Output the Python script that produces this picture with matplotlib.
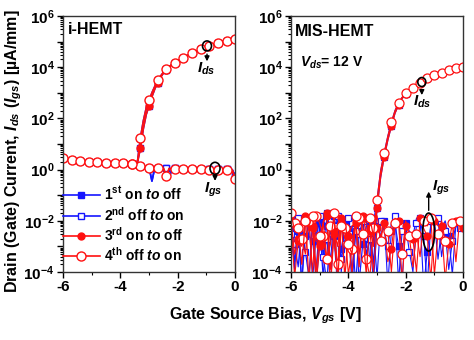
import numpy as np
import matplotlib
matplotlib.use('Agg')
import matplotlib.pyplot as plt
from matplotlib.patches import Ellipse
from matplotlib.transforms import ScaledTranslation
from matplotlib.ticker import LogLocator, NullFormatter, FixedLocator

plt.rcParams['font.family'] = ['Liberation Sans', 'DejaVu Sans']
plt.rcParams['font.weight'] = 'bold'
plt.rcParams['mathtext.fontset'] = 'custom'
plt.rcParams['mathtext.rm'] = 'Liberation Sans:bold'
plt.rcParams['mathtext.it'] = 'Liberation Sans:italic:bold'
plt.rcParams['mathtext.bf'] = 'Liberation Sans:bold'
plt.rcParams['mathtext.default'] = 'regular'
plt.rcParams['axes.unicode_minus'] = False

# ---- i-HEMT, Vgs grid 0.1 V ----
v_left = np.linspace(-6, 0, 61)
v_left_on = v_left[24:]   # -3.6 .. 0 V

# log10(Ids) above threshold, on->off sweeps (1st, 3rd) and off->on sweeps (2nd, 4th)
ids_left_down = [0.22, 0.22, 0.30, 0.85, 1.60, 2.15, 2.50, 2.85, 3.15, 3.40, 3.60, 3.77, 3.90,
                 4.02, 4.10, 4.18, 4.25, 4.31, 4.37, 4.43, 4.49, 4.55, 4.60, 4.65, 4.70,
                 4.74, 4.79, 4.83, 4.87, 4.91, 4.95, 4.98, 5.01, 5.04, 5.07, 5.10, 5.12]
ids_left_up = [0.22, 0.22, 0.35, 1.25, 1.90, 2.40, 2.70, 3.00, 3.25, 3.50, 3.65, 3.80, 3.92,
               4.02, 4.10, 4.18, 4.25, 4.31, 4.37, 4.43, 4.49, 4.55, 4.60, 4.65, 4.70,
               4.74, 4.79, 4.83, 4.87, 4.91, 4.95, 4.98, 5.01, 5.04, 5.07, 5.10, 5.12]

# log10(Igs)
igs_left_blue = [0.45, 0.42, 0.40, 0.38, 0.37, 0.35, 0.34, 0.33, 0.32, 0.31, 0.30, 0.29, 0.29,
                 0.28, 0.27, 0.27, 0.26, 0.26, 0.25, 0.25, 0.24, 0.24, 0.23, 0.23, 0.22, 0.22,
                 0.20, 0.15, 0.11, 0.09, 0.08, -0.45, 0.07, 0.07, 0.06, 0.06, 0.06, -0.35, 0.05,
                 0.05, 0.05, 0.04, 0.04, 0.04, 0.04, 0.03, 0.03, 0.03, 0.03, 0.02, 0.02, 0.02,
                 0.02, 0.02, 0.01, 0.01, 0.01, 0.01, 0.0, 0.0, -0.25]
igs_left_red = [0.45, 0.42, 0.40, 0.38, 0.37, 0.35, 0.34, 0.33, 0.32, 0.31, 0.30, 0.29, 0.29,
                0.28, 0.27, 0.27, 0.26, 0.26, 0.25, 0.25, 0.24, 0.24, 0.23, 0.23, 0.22, 0.22,
                0.20, 0.14, 0.10, 0.08, 0.07, 0.06, 0.06, 0.05, 0.05, 0.05, -0.25, 0.04, 0.04,
                0.04, 0.03, 0.03, 0.03, 0.02, 0.02, 0.02, 0.02, 0.01, 0.01, 0.01, 0.01, 0.0,
                0.0, 0.0, 0.0, -0.01, -0.01, -0.01, -0.02, -0.02, -0.35]

# ---- MIS-HEMT, Vgs grid 0.125 V ----
v_right = np.linspace(-6, 0, 49)

# log10(Ids) below threshold (-6 .. -3.125 V), one row per sweep
ids_right_off = [
    [-1.8, -2.9, -2.4, -4.5, -1.9, -2.6, -2.8, -3.9, -2.1, -4.3, -1.7, -2.5,
     -2.6, -4.6, -2.0, -3.1, -2.3, -2.0, -1.8, -4.4, -2.9, -2.2, -2.2, -3.7],
    [-2.5, -3.6, -1.9, -2.3, -3.2, -4.2, -2.0, -2.6, -1.8, -3.3, -2.7, -4.5,
     -2.2, -2.0, -3.5, -2.8, -1.9, -4.1, -2.4, -2.2, -2.0, -3.4, -2.7, -2.1],
    [-2.0, -3.3, -2.7, -1.9, -1.8, -4.4, -2.3, -2.8, -2.9, -2.1, -1.7, -4.6,
     -2.4, -3.0, -1.9, -4.2, -2.6, -2.2, -2.1, -3.8, -1.8, -2.5, -2.3, -3.0],
    [-1.7, -2.4, -2.3, -3.7, -2.0, -2.2, -1.8, -4.0, -2.6, -2.1, -3.5, -2.9,
     -1.7, -4.3, -2.2, -2.0, -2.9, -3.3, -1.8, -2.4, -2.5, -4.1, -1.9, -2.6],
]
# log10(Ids) above threshold (-3.0 .. 0 V)
ids_right_on_down = [-1.50, -0.30, 0.50, 1.15, 1.70, 2.20, 2.52, 2.78, 2.96, 3.09, 3.18, 3.27,
                     3.37, 3.46, 3.56, 3.62, 3.68, 3.73, 3.78, 3.83, 3.88, 3.93, 3.96, 3.98, 4.00]
ids_right_on_up = [-1.17, -0.05, 0.65, 1.30, 1.85, 2.30, 2.60, 2.82, 2.98, 3.10, 3.18, 3.27,
                   3.37, 3.46, 3.56, 3.62, 3.68, 3.73, 3.78, 3.83, 3.88, 3.93, 3.96, 3.98, 4.00]

# log10(Igs), one row per sweep
igs_right = [
    [-2.4, -3.9, -2.0, -4.4, -2.6, -2.2, -1.9, -4.5, -2.8, -2.0, -2.2, -3.6, -1.8, -4.2, -3.1,
     -2.3, -2.1, -4.6, -2.5, -2.0, -1.9, -3.3, -2.7, -4.4, -2.2, -2.6, -2.0, -4.5, -2.4, -2.1,
     -3.0, -4.3, -2.1, -2.4, -2.6, -1.9, -1.9, -4.6, -3.2, -2.2, -2.0, -3.5, -2.3, -2.0, -2.6,
     -4.1, -2.1, -2.4, -2.0],
    [-2.2, -2.9, -3.8, -2.0, -2.1, -1.9, -4.3, -2.6, -2.0, -3.4, -4.4, -2.2, -2.3, -1.8, -4.0,
     -2.9, -2.1, -2.1, -4.5, -2.5, -2.0, -1.9, -3.6, -2.3, -4.2, -2.0, -2.4, -3.0, -2.1, -1.8,
     -4.4, -2.4, -2.2, -3.2, -4.0, -2.1, -2.0, -2.6, -4.6, -2.0, -2.2, -1.9, -3.4, -2.4, -3.9,
     -2.8, -2.2, -2.3, -2.1],
    [-2.1, -4.2, -2.8, -3.0, -1.9, -2.4, -2.2, -4.5, -3.0, -2.0, -1.8, -3.9, -2.5, -4.2, -2.1,
     -2.7, -2.6, -4.1, -2.0, -3.3, -1.9, -2.1, -2.4, -4.0, -2.3, -2.6, -2.1, -3.6, -3.1, -1.9,
     -2.0, -4.4, -2.2, -2.5, -2.7, -4.0, -1.9, -2.3, -2.6, -4.3, -2.0, -2.2, -2.2, -4.3, -2.9,
     -2.6, -2.0, -2.2, -2.3],
    [-1.9, -2.1, -2.4, -2.7, -3.3, -2.0, -4.0, -1.8, -2.1, -2.6, -3.6, -2.2, -2.9, -3.7, -1.8,
     -2.3, -4.1, -3.1, -1.9, -1.9, -2.2, -3.5, -4.2, -2.3, -1.8, -2.8, -2.0, -2.4, -4.0, -2.1,
     -1.9, -3.3, -2.0, -2.6, -3.8, -2.5, -3.4, -2.0, -2.2, -1.9, -4.1, -2.5, -2.0, -2.8, -2.9,
     -2.1, -3.6, -2.0, -2.2],
]

labels = [r'1$^{st}$ on $\mathit{to}$ off', r'2$^{nd}$ off $\mathit{to}$ on',
          r'3$^{rd}$ on $\mathit{to}$ off', r'4$^{th}$ off $\mathit{to}$ on']
blue, red = '#1515ff', '#ff1010'
styles = [dict(color=blue, marker='s', mfc=blue, mec=blue, ms=4.5),
          dict(color=blue, marker='s', mfc='white', mec=blue, ms=4.5),
          dict(color=red, marker='o', mfc=red, mec=red, ms=5),
          dict(color=red, marker='o', mfc='white', mec=red, ms=6.5)]

fig = plt.figure(figsize=(4.74, 3.4), dpi=100)
ax1 = fig.add_axes([0.133, 0.2, 0.363, 0.753])
ax2 = fig.add_axes([0.614, 0.2, 0.363, 0.753])

# i-HEMT curves
for k, st in enumerate(styles):
    ids = ids_left_down if k in (0, 2) else ids_left_up
    igs = igs_left_blue if k < 2 else igs_left_red
    ax1.plot(v_left, 10 ** np.array(igs), lw=1.2, markevery=3, mew=1, label=labels[k], **st)
    ax1.plot(v_left_on, 10 ** np.array(ids), lw=1.2, markevery=3, mew=1, **st)

# MIS-HEMT curves
for k, st in enumerate(styles):
    on = ids_right_on_down if k in (0, 2) else ids_right_on_up
    ids = np.array(ids_right_off[k] + on)
    ax2.plot(v_right, 10 ** np.array(igs_right[k]), lw=0.8, markevery=(k % 2, 2), mew=0.9, **st)
    ax2.plot(v_right, 10 ** ids, lw=0.9, markevery=2, mew=0.9, **st)

for ax in (ax1, ax2):
    ax.set_yscale('log')
    ax.set_xlim(-6, 0)
    ax.set_ylim(1e-4, 1e6)
    ax.yaxis.set_major_locator(FixedLocator([10.0 ** e for e in range(-4, 7)]))
    ax.set_yticklabels(['$10^{%d}$' % e if e % 2 == 0 else '' for e in range(-4, 7)])
    ax.yaxis.set_minor_locator(LogLocator(base=10, subs=np.arange(2, 10), numticks=20))
    ax.yaxis.set_minor_formatter(NullFormatter())
    ax.set_xticks([-6, -4, -2, 0])
    ax.set_xticks([-5, -3, -1], minor=True)
    ax.tick_params(which='major', direction='out', length=4, width=1, labelsize=11, pad=2)
    ax.tick_params(which='minor', direction='out', length=2, width=0.8)
    for s in ax.spines.values():
        s.set_linewidth(1.0)
        s.set_color('#333333')


def ellipse(ax, x, y, w_px, h_px):
    tr = fig.dpi_scale_trans + ScaledTranslation(x, y, ax.transData)
    ax.add_patch(Ellipse((0, 0), w_px / 100, h_px / 100, transform=tr, fill=False,
                         ec='black', lw=1.2, zorder=10))


# i-HEMT annotations
ax1.text(0.03, 0.975, 'i-HEMT', transform=ax1.transAxes, fontsize=11.5, va='top', ha='left')
ellipse(ax1, -0.98, 10 ** 4.83, 9, 10)
ax1.annotate('', xy=(-0.98, 10 ** 4.12), xytext=(-0.98, 10 ** 4.62),
             arrowprops=dict(arrowstyle='-|>', color='black', lw=1, mutation_scale=7))
ax1.text(-1.0, 10 ** 4.25, r'$\mathit{I}_{\mathit{ds}}$', fontsize=11, ha='center', va='top')
ellipse(ax1, -0.7, 10 ** 0.05, 10, 12)
ax1.annotate('', xy=(-0.7, 10 ** -0.55), xytext=(-0.7, 10 ** -0.2),
             arrowprops=dict(arrowstyle='-|>', color='black', lw=1, mutation_scale=7))
ax1.text(-0.75, 10 ** -0.45, r'$\mathit{I}_{\mathit{gs}}$', fontsize=11, ha='center', va='top')

ax1.legend(loc='upper left', bbox_to_anchor=(-0.03, 0.36), frameon=False, fontsize=10,
           handlelength=2.6, handletextpad=0.3, labelspacing=0.18, borderaxespad=0)

# MIS-HEMT annotations
ax2.text(0.02, 0.97, 'MIS-HEMT', transform=ax2.transAxes, fontsize=11.5, va='top', ha='left')
ax2.text(0.05, 0.85, r'$\mathit{V}_{\mathit{ds}}$= 12 V', transform=ax2.transAxes,
         fontsize=10, va='top', ha='left')
ellipse(ax2, -1.44, 10 ** 3.42, 8, 9)
ax2.annotate('', xy=(-1.44, 10 ** 2.8), xytext=(-1.44, 10 ** 3.24),
             arrowprops=dict(arrowstyle='-|>', color='black', lw=1, mutation_scale=7))
ax2.text(-1.42, 10 ** 2.95, r'$\mathit{I}_{\mathit{ds}}$', fontsize=11, ha='center', va='top')
ellipse(ax2, -1.2, 10 ** -2.44, 12, 38)
ax2.annotate('', xy=(-1.2, 10 ** -0.75), xytext=(-1.2, 10 ** -1.7),
             arrowprops=dict(arrowstyle='-|>', color='black', lw=1, mutation_scale=7))
ax2.text(-1.07, 10 ** -0.35, r'$\mathit{I}_{\mathit{gs}}$', fontsize=11, ha='left', va='top')

fig.text(0.028, 0.555, r'Drain (Gate) Current, $\mathit{I}_{\mathit{ds}}$ ($\mathit{I}_{\mathit{gs}}$) [µA/mm]',
         rotation=90, fontsize=11.5, ha='center', va='center')
fig.text(0.56, 0.072, r'Gate Source Bias, $\mathit{V}_{\mathit{gs}}$ [V]', fontsize=11.5,
         ha='center', va='center')

fig.savefig('out.png', dpi=100)
